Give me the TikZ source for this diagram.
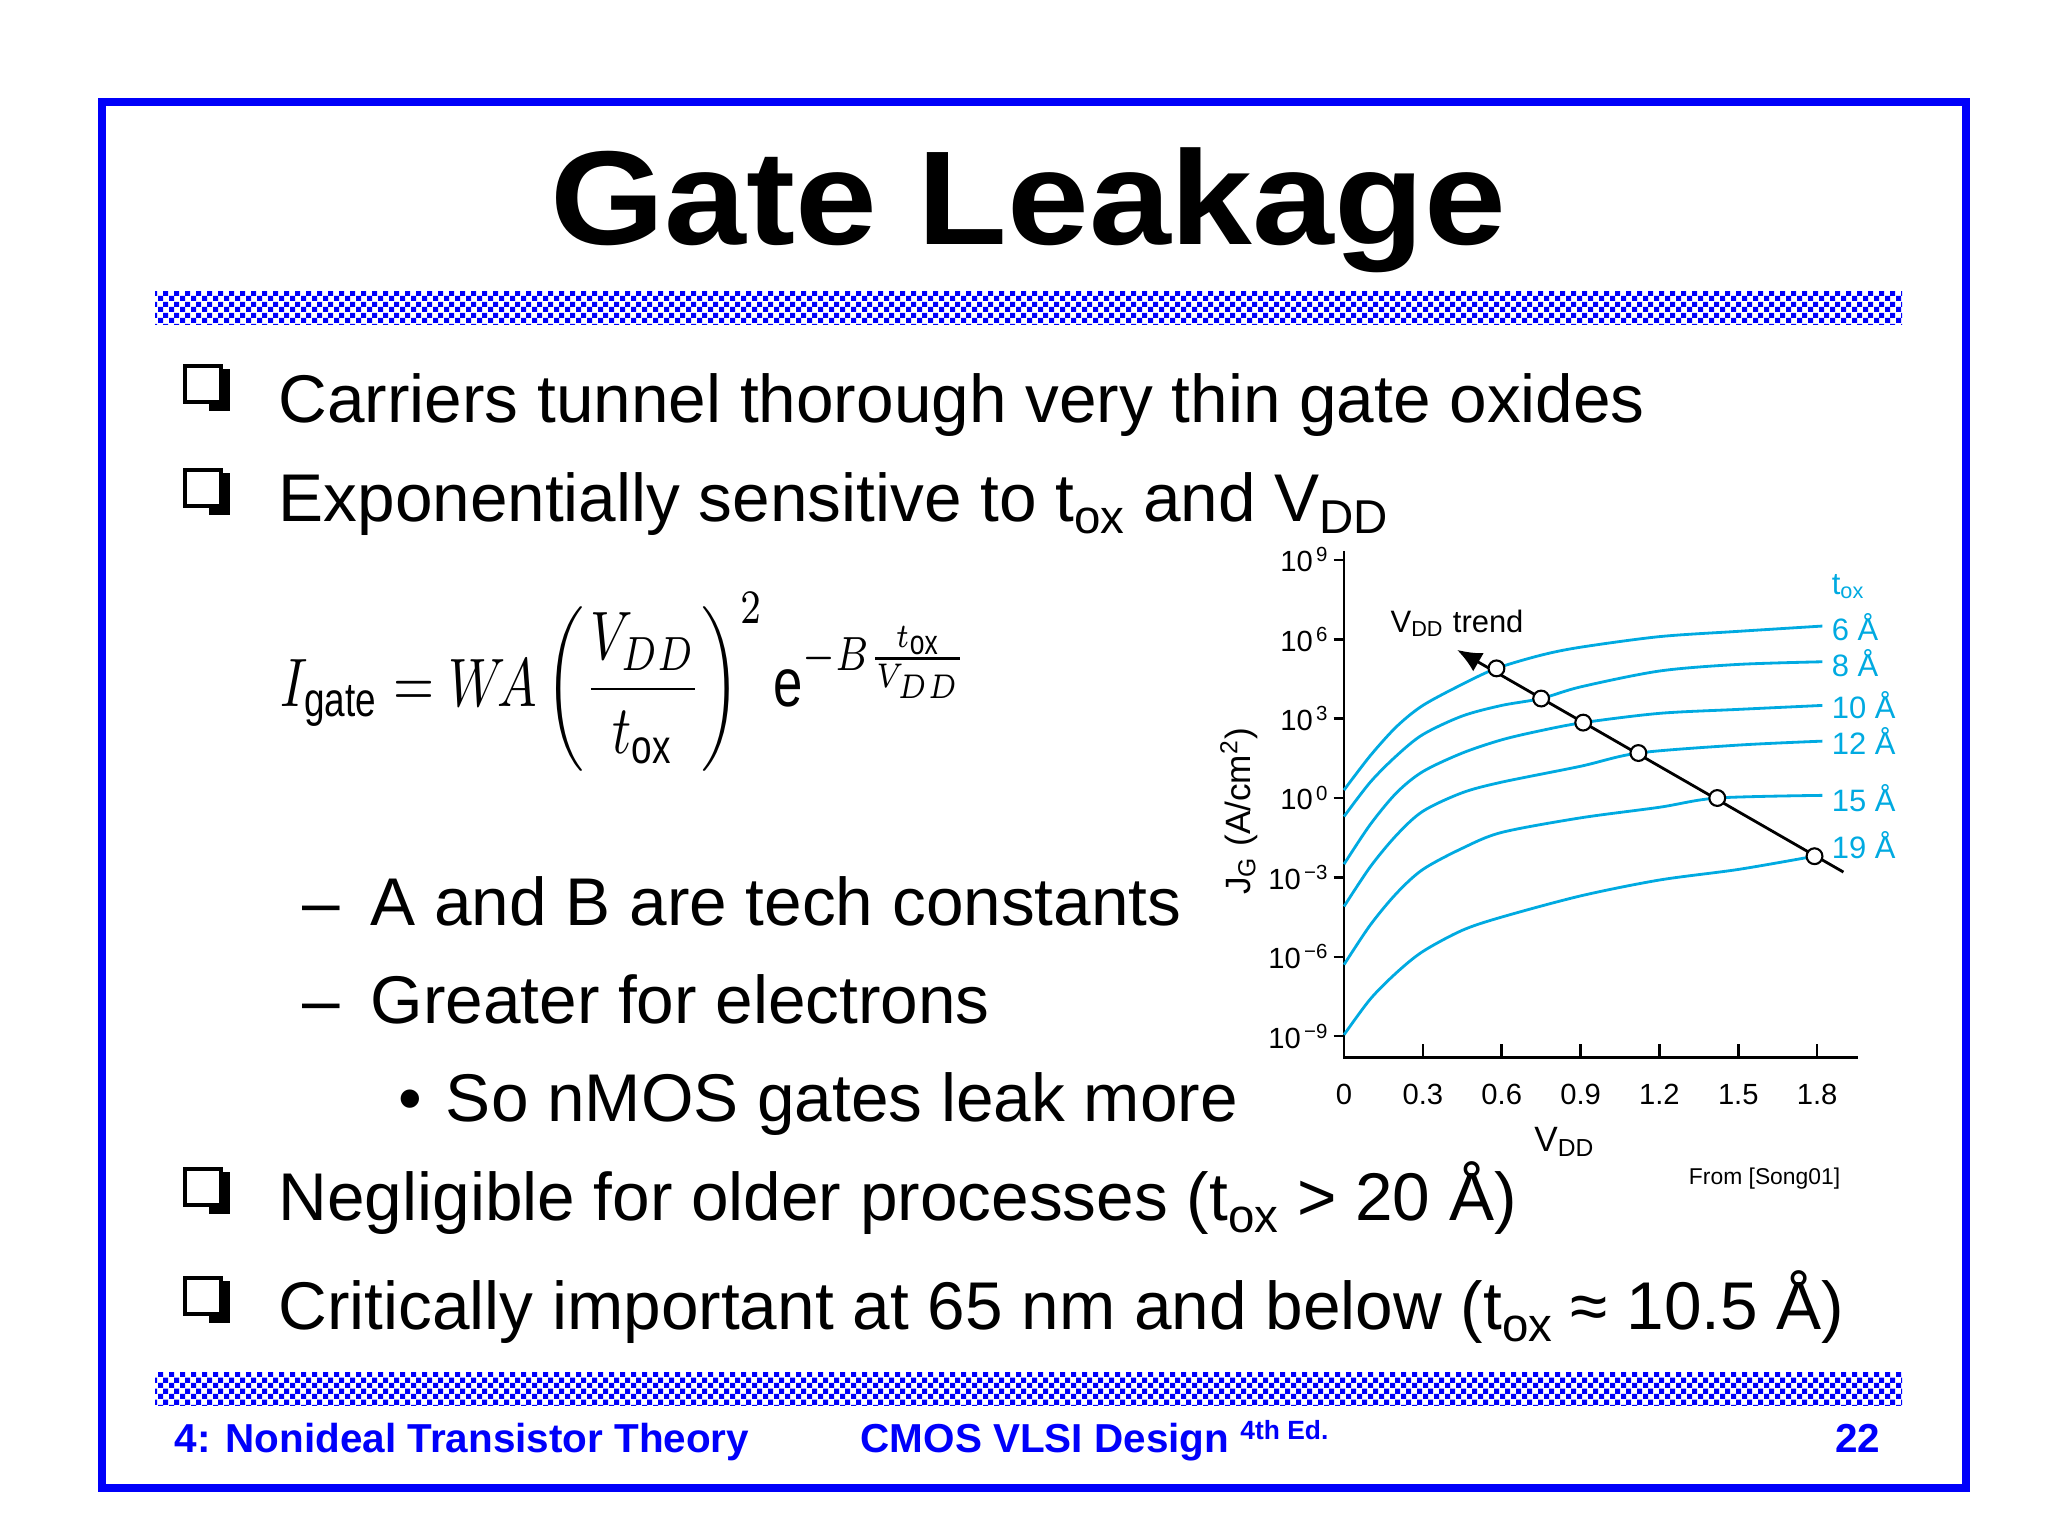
\documentclass[tikz,border=0pt]{standalone}
\usepackage{fontspec}
\usepackage{amsmath}
\setmainfont{Liberation Sans}
\usetikzlibrary{patterns,arrows.meta}
\definecolor{cy}{RGB}{0,170,225}
\definecolor{fb}{RGB}{0,0,250}
\pgfdeclarepatternformonly{smallchk}{\pgfpointorigin}{\pgfpoint{3pt}{3pt}}{\pgfpoint{3pt}{3pt}}{%
  \pgfpathrectangle{\pgfpointorigin}{\pgfpoint{1.5pt}{1.5pt}}%
  \pgfpathrectangle{\pgfpoint{1.5pt}{1.5pt}}{\pgfpoint{1.5pt}{1.5pt}}%
  \pgfusepath{fill}}
\newcommand{\lowsub}[1]{\raisebox{-0.35ex}{\fontsize{13.5}{14}\selectfont #1}}
\tikzset{
  body/.style={anchor=base west,inner sep=0pt,font=\fontsize{19.2}{23}\selectfont},
  foot/.style={anchor=base west,inner sep=0pt,text=fb,font=\fontsize{11.5}{13}\selectfont\bfseries},
  tick/.style={anchor=east,inner sep=1pt,font=\fontsize{8.3}{9}\selectfont},
  xtick/.style={anchor=center,inner sep=0pt,font=\fontsize{8.3}{9}\selectfont},
  curve/.style={cy,line width=0.8pt},
  lab/.style={anchor=west,inner sep=1pt,text=cy,font=\fontsize{8.8}{9}\selectfont},
  dot/.style={circle,draw=black,fill=white,line width=0.6pt,inner sep=0pt,minimum size=4.5pt},
  chk/.style={pattern=smallchk,pattern color=fb}
}
\newcommand{\qbox}[3]{%
  \fill[black] (#2+6,#3-15) rectangle (#2+27,#3+27);
  \node[draw=black,fill=white,line width=1.1pt,minimum size=0.36cm,inner sep=0pt] (#1) at (#2,#3) {};
}
\begin{document}
\begin{tikzpicture}[x={(0.01cm,0)},y={(0,-0.01cm)}]
\useasboundingbox (0,0) rectangle (2048,1536);
\fill[white] (0,0) rectangle (2048,1536);
\draw[fb,line width=2.3pt] (102,102) rectangle (1966,1488);
\node[inner sep=0pt,xscale=1.1,font=\fontsize{38}{40}\selectfont\bfseries] (title) at (1028,210) {Gate Leakage};
\fill[chk] (155,291) rectangle (1902,324);
\fill[chk] (155,1372) rectangle (1902,1405);

\qbox{b1}{203}{384}
\qbox{b2}{203}{488}
\qbox{b3}{203}{1187}
\qbox{b4}{203}{1296}
\node[body] (t1) at (278,422) {Carriers tunnel thorough very thin gate oxides};
\node[body] (t2) at (278,521) {Exponentially sensitive to t\lowsub{ox} and V\lowsub{DD}};
\node[body] (t3) at (302,925) {–\hspace{0.45em}A and B are tech constants};
\node[body] (t4) at (302,1023) {–\hspace{0.45em}Greater for electrons};
\node[body] (t5) at (398,1121) {•\hspace{0.35em}So nMOS gates leak more};
\node[body] (t6) at (278,1220) {Negligible for older processes (t\lowsub{ox} > 20 Å)};
\node[body] (t7) at (278,1329) {Critically important at 65 nm and below (t\lowsub{ox} ≈ 10.5 Å)};

\node[inner sep=0pt,xscale=1.5,yscale=1.95] (eq) at (625,682) {$\displaystyle I_{\mathrm{gate}} = W\!A\left(\frac{V_{DD}}{t_{\mathrm{ox}}}\right)^{2}\mathrm{e}^{-B\frac{t_{\mathrm{ox}}}{V_{DD}}}$};

\node[foot] (f1) at (174,1452) {4: Nonideal Transistor Theory};
\node[foot] (f2) at (860,1452) {CMOS VLSI Design \raisebox{0.6ex}{\fontsize{7.5}{8}\selectfont 4th Ed.}};
\node[foot,anchor=base east] (f3) at (1881,1452) {22};

\begin{scope}[shift={(1344,798)},x={(2.627cm,0)},y={(0,0.2644cm)}]
  \draw[line width=0.8pt] (0,9.34) -- (0,-9.8) -- (1.957,-9.8);
  \foreach \k/\t in {9/9,6/6,3/3,0/0,-3/−3,-6/−6,-9/−9}{
    \draw[line width=0.7pt] (-0.04,\k) -- (0,\k);
    \node[tick] (yl\k) at (-0.04,\k) {10\textsuperscript{\,\t}};
  }
  \foreach \v in {0.3,0.6,0.9,1.2,1.5,1.8}{
    \draw[line width=0.7pt] (\v,-9.8) -- (\v,-9.3);
  }
  \foreach \v/\n in {0/a,0.3/b,0.6/c,0.9/d,1.2/e,1.5/f,1.8/g}{
    \node[xtick] (xl\n) at (\v,-11.2) {\v};
  }
  \node[inner sep=0pt,font=\fontsize{10}{11}\selectfont] (xlab) at (0.84,-13.0) {V\textsubscript{DD}};
  \node[inner sep=0pt,rotate=90,font=\fontsize{10}{11}\selectfont] (ylab) at (-0.4,-0.5) {J\textsubscript{G} (A/cm\textsuperscript{2})};
  \node[inner sep=0pt,font=\fontsize{6.5}{7}\selectfont] (src) at (1.6,-14.4) {From [Song01]};

  \draw[curve] plot[smooth] coordinates {(0,0.3) (0.1,1.6) (0.2,2.7) (0.3,3.5) (0.45,4.3) (0.58,4.9) (0.75,5.4) (0.9,5.7) (1.2,6.1) (1.5,6.3) (1.82,6.5)};
  \draw[curve] plot[smooth] coordinates {(0,-0.7) (0.1,0.6) (0.2,1.6) (0.3,2.4) (0.45,3.1) (0.6,3.5) (0.75,3.76) (0.9,4.2) (1.2,4.8) (1.5,5.05) (1.82,5.15)};
  \draw[curve] plot[smooth] coordinates {(0,-2.5) (0.1,-1.0) (0.2,0.2) (0.3,1.0) (0.45,1.7) (0.6,2.2) (0.75,2.55) (0.91,2.85) (1.2,3.2) (1.5,3.35) (1.82,3.5)};
  \draw[curve] plot[smooth] coordinates {(0,-4.1) (0.1,-2.6) (0.2,-1.4) (0.3,-0.5) (0.45,0.2) (0.6,0.6) (0.9,1.2) (1.12,1.7) (1.5,2.0) (1.82,2.15)};
  \draw[curve] plot[smooth] coordinates {(0,-6.3) (0.1,-4.8) (0.2,-3.6) (0.3,-2.7) (0.45,-1.9) (0.6,-1.3) (0.9,-0.75) (1.2,-0.35) (1.42,0) (1.82,0.1)};
  \draw[curve] plot[smooth] coordinates {(0,-8.95) (0.1,-7.6) (0.2,-6.6) (0.3,-5.8) (0.45,-5.0) (0.6,-4.5) (0.9,-3.7) (1.2,-3.1) (1.5,-2.7) (1.79,-2.2)};

  \coordinate (te) at (1.9,-2.8);
  \coordinate (ts) at (0.43,5.6);
  \draw[line width=0.8pt,-{Latex[length=7pt,width=6pt]}] (te) -- (ts);
  \foreach \v/\l/\n in {0.58/4.9/p1,0.75/3.76/p2,0.91/2.85/p3,1.12/1.7/p4,1.42/0/p5,1.79/-2.2/p6}{
    \node[dot] (\n) at (\v,\l) {};
  }
  \node[inner sep=0pt,font=\fontsize{8.8}{9}\selectfont] (trend) at (0.43,6.6) {V\textsubscript{DD} trend};
  \node[lab] (tox) at (1.84,8.0) {t\textsubscript{ox}};
  \node[lab] (l6) at (1.84,6.47) {6 Å};
  \node[lab] (l8) at (1.84,5.1) {8 Å};
  \node[lab] (l10) at (1.84,3.5) {10 Å};
  \node[lab] (l12) at (1.84,2.15) {12 Å};
  \node[lab] (l15) at (1.84,0) {15 Å};
  \node[lab] (l19) at (1.84,-1.8) {19 Å};
\end{scope}
\end{tikzpicture}
\end{document}
